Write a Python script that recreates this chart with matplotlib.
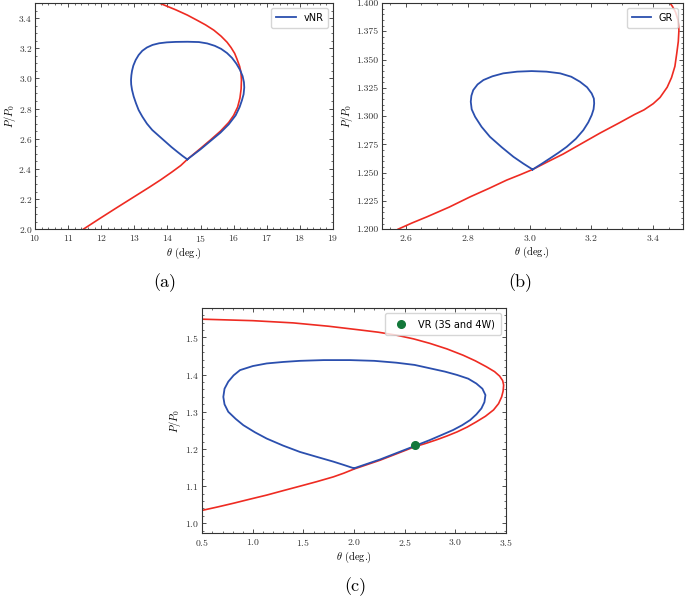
import matplotlib
matplotlib.use("Agg")
import matplotlib.pyplot as plt
from matplotlib.ticker import AutoMinorLocator, MultipleLocator, FormatStrFormatter

# ---------------- data ----------------
# Panel (a): vNR
a_red_theta = [11.46, 11.95, 12.45, 12.95, 13.45, 13.80, 14.14, 14.40, 14.60,
               15.00, 15.30, 15.60, 15.85, 16.00, 16.12, 16.19, 16.225, 16.235,
               16.22, 16.18, 16.10, 16.03, 15.92, 15.80, 15.62, 15.40, 15.15,
               14.90, 14.60, 14.25, 13.95, 13.75]
a_red_p = [2.000, 2.070, 2.140, 2.209, 2.278, 2.328, 2.380, 2.422, 2.463,
           2.536, 2.592, 2.650, 2.708, 2.755, 2.810, 2.870, 2.930, 2.990,
           3.040, 3.080, 3.128, 3.166, 3.205, 3.240, 3.280, 3.320, 3.355,
           3.385, 3.420, 3.455, 3.482, 3.500]
a_blue_theta = [14.60, 14.45, 14.30, 14.12, 13.94, 13.75, 13.54, 13.38, 13.24, 13.13,
                13.05, 12.98, 12.93, 12.905, 12.90, 12.91, 12.93, 12.97, 13.04, 13.13,
                13.24, 13.38, 13.55, 13.75, 13.98, 14.25, 14.61, 14.95, 15.20, 15.43,
                15.62, 15.80, 15.95, 16.08, 16.19, 16.27, 16.31, 16.32, 16.30, 16.25,
                16.18, 16.06, 15.85, 15.60, 15.30, 15.00, 14.60]
a_blue_p = [2.463, 2.487, 2.513, 2.545, 2.580, 2.617, 2.658, 2.700, 2.747, 2.790,
            2.835, 2.880, 2.924, 2.960, 2.990, 3.020, 3.050, 3.085, 3.122, 3.155,
            3.183, 3.205, 3.222, 3.233, 3.239, 3.242, 3.243, 3.241, 3.232, 3.216,
            3.196, 3.168, 3.136, 3.098, 3.057, 3.015, 2.975, 2.940, 2.895, 2.855,
            2.810, 2.755, 2.695, 2.640, 2.585, 2.530, 2.463]

# Panel (b): GR
b_red_theta = [2.575, 2.620, 2.668, 2.740, 2.808, 2.870, 2.926, 2.970, 3.010, 3.060,
               3.109, 3.170, 3.228, 3.290, 3.340, 3.370, 3.400, 3.422, 3.445, 3.459,
               3.470, 3.476, 3.481, 3.483, 3.480, 3.472, 3.462, 3.454]
b_red_p = [1.2000, 1.2055, 1.2109, 1.2195, 1.2286, 1.2362, 1.2434, 1.2482, 1.2528, 1.2598,
           1.2665, 1.2760, 1.2850, 1.2940, 1.3015, 1.3055, 1.3110, 1.3165, 1.3255, 1.3340,
           1.3440, 1.3555, 1.3660, 1.3760, 1.3850, 1.3920, 1.3970, 1.4000]
b_blue_theta = [3.010, 2.980, 2.948, 2.910, 2.872, 2.845, 2.824, 2.813, 2.810, 2.812,
                2.818, 2.832, 2.851, 2.880, 2.915, 2.960, 3.007, 3.055, 3.099, 3.135,
                3.163, 3.186, 3.201, 3.208, 3.209, 3.207, 3.201, 3.190, 3.174, 3.150,
                3.120, 3.093, 3.066, 3.038, 3.010]
b_blue_p = [1.2528, 1.2580, 1.2640, 1.2725, 1.2817, 1.2905, 1.2994, 1.3060, 1.3127, 1.3180,
            1.3230, 1.3280, 1.3319, 1.3352, 1.3378, 1.3393, 1.3398, 1.3393, 1.3378, 1.3348,
            1.3304, 1.3255, 1.3200, 1.3155, 1.3112, 1.3060, 1.3009, 1.2945, 1.2876, 1.2800,
            1.2728, 1.2675, 1.2626, 1.2576, 1.2528]

# Panel (c): VR (3S and 4W)
c_red_theta = [0.50, 0.65, 0.807, 0.97, 1.137, 1.30, 1.466, 1.63, 1.796, 1.90, 2.00,
               2.13, 2.26, 2.43, 2.60, 2.71, 2.82, 2.92, 3.02, 3.12, 3.21, 3.30, 3.38,
               3.43, 3.46, 3.475, 3.48, 3.47, 3.44, 3.39, 3.31, 3.20, 3.08, 2.92, 2.75,
               2.59, 2.42, 2.24, 2.06, 1.75, 1.40, 1.00, 0.50]
c_red_p = [1.035, 1.044, 1.054, 1.065, 1.076, 1.088, 1.100, 1.112, 1.125, 1.135, 1.146,
           1.158, 1.170, 1.188, 1.206, 1.215, 1.225, 1.235, 1.246, 1.259, 1.273, 1.288, 1.305,
           1.322, 1.340, 1.356, 1.372, 1.384, 1.396, 1.408, 1.421, 1.437, 1.452, 1.469, 1.484,
           1.496, 1.506, 1.514, 1.520, 1.530, 1.539, 1.545, 1.549]
c_blue_theta = [2.00, 1.90, 1.796, 1.63, 1.466, 1.30, 1.137, 1.02, 0.906, 0.83, 0.757,
                0.72, 0.708, 0.72, 0.757, 0.81, 0.873, 1.00, 1.137, 1.30, 1.466, 1.70,
                1.961, 2.20, 2.42, 2.60, 2.75, 2.90, 3.02, 3.13, 3.21, 3.27, 3.30, 3.29,
                3.26, 3.21, 3.15, 3.07, 2.98, 2.87, 2.75, 2.60, 2.43, 2.26, 2.13, 2.00]
c_blue_p = [1.148, 1.157, 1.166, 1.179, 1.192, 1.209, 1.228, 1.245, 1.264, 1.281, 1.300,
            1.320, 1.340, 1.362, 1.381, 1.398, 1.412, 1.423, 1.430, 1.434, 1.437, 1.439,
            1.439, 1.437, 1.432, 1.426, 1.417, 1.408, 1.399, 1.389, 1.376, 1.362, 1.345, 1.326,
            1.309, 1.293, 1.278, 1.264, 1.251, 1.238, 1.224, 1.208, 1.190, 1.172, 1.160, 1.148]
c_point_theta = [2.60]
c_point_p = [1.211]

labels = ["vNR", "GR", "VR (3S and 4W)"]
captions = ["(a)", "(b)", "(c)"]

RED = "#ee2b22"
BLUE = "#2b4fae"
GREEN = "#13783a"

# ---------------- style ----------------
plt.rcParams["font.family"] = "serif"
plt.rcParams["font.serif"] = ["cmr10", "DejaVu Serif"]
plt.rcParams["mathtext.fontset"] = "cm"
plt.rcParams["axes.formatter.use_mathtext"] = True
plt.rcParams["axes.unicode_minus"] = False

fig = plt.figure(figsize=(6.85, 6.0), dpi=100)

ax_a = fig.add_axes([35 / 685, 0.618, 298 / 685, 0.377])
ax_b = fig.add_axes([0.5572, 0.618, 0.4398, 0.377])
ax_c = fig.add_axes([0.2953, 0.111, 0.4429, 0.375])


def style(ax, xmaj, xmin_n, ymaj, ymin_n):
    ax.xaxis.set_major_locator(MultipleLocator(xmaj))
    ax.yaxis.set_major_locator(MultipleLocator(ymaj))
    ax.xaxis.set_minor_locator(AutoMinorLocator(xmin_n))
    ax.yaxis.set_minor_locator(AutoMinorLocator(ymin_n))
    ax.tick_params(which="both", direction="in", top=True, right=True,
                   labelsize=7, colors="#333333", pad=2.5)
    ax.tick_params(which="major", length=3, width=0.6)
    ax.tick_params(which="minor", length=1.6, width=0.5)
    for s in ax.spines.values():
        s.set_linewidth(0.8)
        s.set_color("#333333")
    ax.set_xlabel(r"$\theta$ (deg.)", fontsize=7.5, labelpad=1.5)
    ax.set_ylabel(r"$P/P_0$", fontsize=7.5, labelpad=1)


legprops = dict(family="DejaVu Sans", size=7)

# (a)
ax_a.plot(a_red_theta, a_red_p, color=RED, lw=1.2)
ax_a.plot(a_blue_theta, a_blue_p, color=BLUE, lw=1.3, label=labels[0])
ax_a.set_xlim(10, 19)
ax_a.set_ylim(2.0, 3.5)
style(ax_a, 1, 5, 0.2, 4)
ax_a.tick_params(axis="y", labelsize=6.8, pad=2)
ax_a.yaxis.set_label_coords(-0.058, 0.5)
ax_a.legend(loc="upper right", prop=legprops, handlelength=2.0, borderpad=0.5)

# (b)
ax_b.plot(b_red_theta, b_red_p, color=RED, lw=1.2)
ax_b.plot(b_blue_theta, b_blue_p, color=BLUE, lw=1.3, label=labels[1])
ax_b.set_xlim(2.522, 3.496)
ax_b.set_ylim(1.2, 1.4)
style(ax_b, 0.2, 4, 0.025, 5)
ax_b.yaxis.set_major_formatter(FormatStrFormatter("%.3f"))
ax_b.legend(loc="upper right", prop=legprops, handlelength=2.0, borderpad=0.5)

# (c)
ax_c.plot(c_red_theta, c_red_p, color=RED, lw=1.2)
ax_c.plot(c_blue_theta, c_blue_p, color=BLUE, lw=1.3)
ax_c.plot(c_point_theta, c_point_p, "o", color=GREEN, ms=5.5, label=labels[2], zorder=5)
ax_c.set_xlim(0.5, 3.5)
ax_c.set_ylim(0.973, 1.578)
style(ax_c, 0.5, 5, 0.1, 5)
ax_c.legend(loc="upper right", prop=legprops, borderpad=0.6)

# captions
fig.text(165 / 685, 1 - 283 / 600, captions[0], ha="center", va="center", fontsize=13)
fig.text(520 / 685, 1 - 283 / 600, captions[1], ha="center", va="center", fontsize=13)
fig.text(355 / 685, 1 - 587 / 600, captions[2], ha="center", va="center", fontsize=13)

fig.savefig("out.png", dpi=100)
